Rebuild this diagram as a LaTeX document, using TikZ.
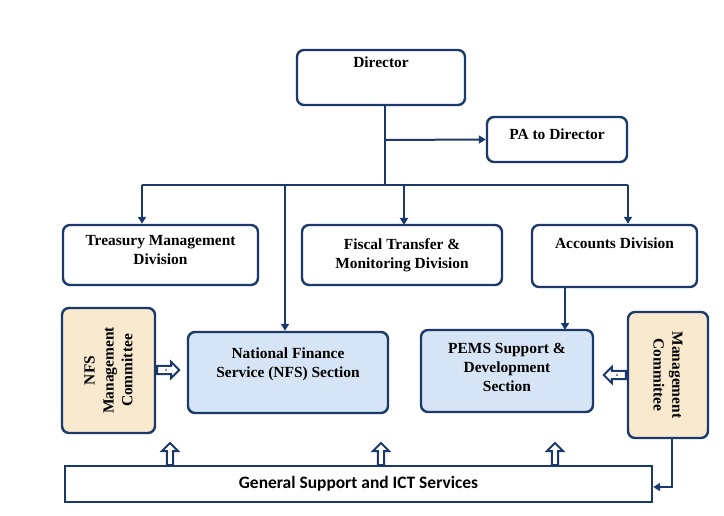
\documentclass[tikz,border=0pt]{standalone}
\usepackage{fontspec}
\setmainfont{Liberation Serif}
\newfontfamily\barfont{Carlito}
\usetikzlibrary{shapes.arrows,arrows.meta}
\definecolor{nv}{HTML}{1B3A6B}
\definecolor{lb}{HTML}{D6E5F5}
\definecolor{tn}{HTML}{F8E9CF}
\begin{document}
\begin{tikzpicture}[x=1bp,y=-1bp,
 box/.style={draw=nv,line width=2.4bp,rounded corners=7bp,font=\bfseries\fontsize{15.5}{19}\selectfont,align=center,inner sep=0pt},
 ln/.style={draw=nv,line width=2bp},
 ar/.style={ln,-{Triangle[length=7bp,width=8bp]}},
 blk/.style={single arrow,draw=nv,fill=white,line width=2bp,minimum height=22bp,minimum width=16bp,single arrow head extend=3bp,inner sep=1pt}]
\useasboundingbox (0,0) rectangle (724,516);
\node[box,minimum width=168bp,minimum height=55bp,text depth=30bp] (dir) at (381,77.5) {Director};
\node[box,minimum width=140bp,minimum height=45bp,text depth=10bp] (pa) at (557,139.5) {PA to Director};
\node[box,minimum width=195bp,minimum height=60bp,text depth=10bp] (tr) at (160.5,255) {Treasury Management\\Division};
\node[box,minimum width=200bp,minimum height=60bp] (fi) at (402,255) {Fiscal Transfer \&\\Monitoring Division};
\node[box,minimum width=165bp,minimum height=62bp,text depth=26bp] (ac) at (614.5,256) {Accounts Division};
\node[box,fill=tn,minimum width=93bp,minimum height=125bp] (nm) at (108.5,370.5) {\rotatebox{90}{\parbox{115bp}{\centering NFS\\Management\\Committee}}};
\node[box,fill=lb,minimum width=200bp,minimum height=81bp,text depth=20bp] (nfs) at (288,372.5) {National Finance\\Service (NFS) Section};
\node[box,fill=lb,minimum width=172bp,minimum height=82bp,text depth=8bp] (pe) at (507,371) {PEMS Support \&\\Development\\Section};
\node[box,fill=tn,minimum width=80bp,minimum height=126bp] (mc) at (668,375) {\rotatebox{-90}{\parbox{115bp}{\centering Management\\Committee}}};
\node[draw=nv,line width=2.4bp,minimum width=587bp,minimum height=36bp,inner sep=0pt,font=\barfont\bfseries\fontsize{17.5}{19}\selectfont] (bar) at (358.5,484) {General Support and ICT Services};
\coordinate (j1) at (385,140);
\coordinate (j2) at (385,185);
\coordinate (hl) at (142,185);
\coordinate (hr) at (628,185);
\coordinate (bn) at (285,185);
\coordinate (mcv) at (672,487);
\draw[ln] (dir.south -| j1) -- (j2);
\draw[ar] (j1) -- (pa.west);
\draw[ln] (hl) -- (hr);
\draw[ar] (hl) -- (hl |- tr.north);
\draw[ar] (404,185) -- (404,225);
\draw[ar] (hr) -- (hr |- ac.north);
\draw[ar] (bn) -- (bn |- nfs.north);
\draw[ar] (565,287) -- (565,330);
\draw[ar] (mcv |- mc.south) -- (mcv) -- (bar.east |- mcv);
\node[blk,rotate=90,anchor=tail] (u1) at (170,466) {};
\node[blk,rotate=90,anchor=tail] (u2) at (381,466) {};
\node[blk,rotate=90,anchor=tail] (u3) at (555,466) {};
\node[blk,anchor=tail,font=\tiny] (r1) at (nm.east |- 0,370) {a};
\node[blk,shape border rotate=180,anchor=tail,font=\tiny] (l1) at (mc.west |- 0,375) {a};
\end{tikzpicture}
\end{document}
